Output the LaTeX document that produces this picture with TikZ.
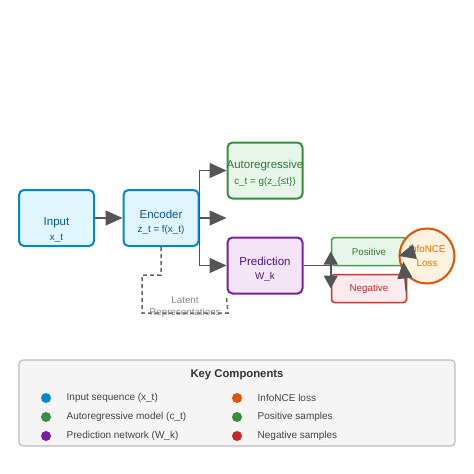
\documentclass[tikz,border=0pt]{standalone}
\usepackage{fontspec}
\setmainfont{Liberation Sans}
\usetikzlibrary{arrows.meta}
\definecolor{inLine}{HTML}{0288D1}
\definecolor{inFill}{HTML}{E1F5FE}
\definecolor{inText}{HTML}{01579B}
\definecolor{arLine}{HTML}{388E3C}
\definecolor{arFill}{HTML}{E8F5E9}
\definecolor{arText}{HTML}{2E7D32}
\definecolor{prLine}{HTML}{7B1FA2}
\definecolor{prFill}{HTML}{F3E5F5}
\definecolor{prText}{HTML}{4A148C}
\definecolor{poLine}{HTML}{43A047}
\definecolor{poFill}{HTML}{E8F5E9}
\definecolor{poText}{HTML}{2E7D32}
\definecolor{neLine}{HTML}{D32F2F}
\definecolor{neFill}{HTML}{FFEBEE}
\definecolor{neText}{HTML}{C62828}
\definecolor{lsLine}{HTML}{E65100}
\definecolor{lsFill}{HTML}{FFF3E0}
\definecolor{lsText}{HTML}{EF6C00}
\definecolor{arrowGray}{HTML}{555555}
\definecolor{latentGray}{HTML}{666666}
\definecolor{latentText}{HTML}{888888}
\definecolor{legLine}{HTML}{BDBDBD}
\definecolor{legFill}{HTML}{F5F5F5}
\definecolor{legText}{HTML}{444444}
\newcommand*{\stageTitleFont}{\fontsize{11.5}{13}\selectfont}
\newcommand*{\stageSubFont}{\fontsize{9.8}{14}\selectfont}
\tikzset{
    stagebox/.style={rectangle, rounded corners=5pt, line width=2pt, minimum width=75pt, minimum height=56pt},
    samplebox/.style={rectangle, rounded corners=3pt, line width=1.5pt, minimum width=75pt, minimum height=28pt, font=\stageSubFont},
    flow/.style={draw=arrowGray, line width=1.5pt, -{Triangle[length=17pt,width=15pt]}},
    shortflow/.style={flow, -{Triangle[length=13pt,width=14pt]}},
    latent/.style={draw=latentGray, line width=1.5pt, dash pattern=on 4pt off 3pt},
}
\newcommand*{\stage}[7]{% name, x centre, y centre, colour prefix, title, subtitle, title y
    \node[stagebox, draw=#4Line, fill=#4Fill] (#1) at (#2,#3) {};
    \node[font=\stageTitleFont, text=#4Text] (#1Title) at (#2,#7) {#5};
    \node[font=\stageSubFont, text=#4Text] (#1Sub) at (#2,#7+15.5) {#6};
}
\newcommand*{\legendItem}[5]{% name, x, y, dot colour, text
    \node[circle, fill=#4, minimum size=10pt, inner sep=0pt] (#1) at (#2,#3) {};
    \node[anchor=west, font=\fontsize{10}{12}\selectfont, text=legText, inner sep=0pt] (#1Text) at (#2+20.5,#3) {#5};
}

\begin{document}
\begin{tikzpicture}[x=1pt, y=-1pt]
\useasboundingbox (0,0) rectangle (474,474);
\stage{inp}{56.5}{218}{in}{Input}{x\_t}{223}
\stage{enc}{161}{218}{in}{Encoder}{z\_t = f(x\_t)}{214}
\stage{aut}{265}{170.5}{ar}{Autoregressive}{c\_t = g(z\_\{≤t\})}{166}
\stage{pred}{265}{265.5}{pr}{Prediction}{W\_k}{261}
\node[samplebox, draw=poLine, fill=poFill, text=poText] (pos) at (369,251.5) {Positive};
\node[samplebox, draw=neLine, fill=neFill, text=neText] (neg) at (369,288.5) {Negative};
\node[circle, draw=lsLine, fill=lsFill, line width=2pt, minimum size=55pt, inner sep=0pt, align=center, text=lsText, font=\stageSubFont] (loss) at (427,256) {InfoNCE\\Loss};
\draw[flow] (inp) -- (enc);
\draw[flow] (enc.east) |- (aut.west);
\draw[flow] (enc.east) -- (enc.east -| aut.west);
\draw[flow] (enc.east) |- (pred.west);
\coordinate (split) at (pos.west |- pred.east);
\draw[draw=arrowGray, line width=1.5pt] (pred.east) -- (split);
\draw[shortflow] (split) -- (pos.west);
\draw[shortflow] (split) -- (neg.west);
\coordinate (lossIn) at ([shift={(15,-4)}]loss.west);
\draw[flow] (lossIn) -- (loss.west);
\coordinate (negOut) at ([shift={(-1,3)}]neg.east);
\draw[flow] (negOut) -- ++(-3,-30);
\draw[latent] (enc.south) |- (142,275) |- (228,313) -- ([yshift=-3pt]pred.south west);
\node[font=\stageSubFont, text=latentText] (latT) at (185,300) {Latent};
\node[font=\stageSubFont, text=latentText] (latR) at (185,313) {Representations};
\node[draw=legLine, fill=legFill, rounded corners=4pt, line width=1.2pt, minimum width=436pt, minimum height=86pt] (legend) at (237,403) {};
\node[font=\bfseries\fontsize{11.3}{13}\selectfont, text=black!80] (legTitle) at (237,375) {Key Components};
\legendItem{kIn}{46}{398}{inLine}{Input sequence (x\_t)}
\legendItem{kAr}{46}{417}{arLine}{Autoregressive model (c\_t)}
\legendItem{kPr}{46}{436}{prLine}{Prediction network (W\_k)}
\legendItem{kLs}{237}{398}{lsLine}{InfoNCE loss}
\legendItem{kPo}{237}{417}{arLine}{Positive samples}
\legendItem{kNe}{237}{436}{neText}{Negative samples}
\end{tikzpicture}
\end{document}
